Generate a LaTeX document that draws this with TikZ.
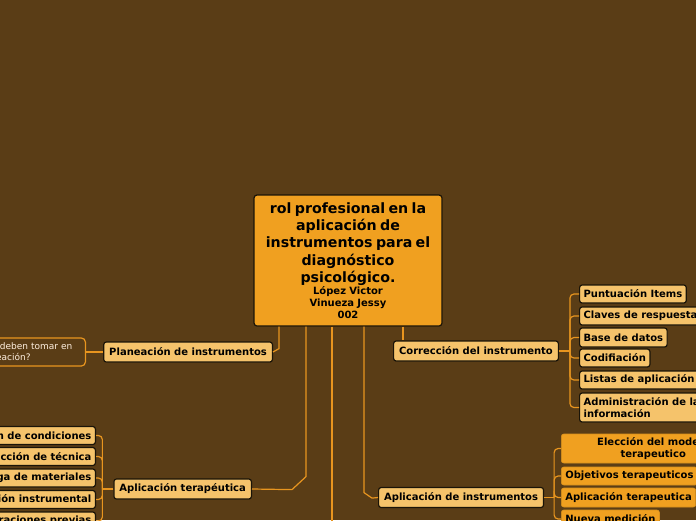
\documentclass[tikz,border=0pt]{standalone}
\usepackage{fontspec}
\setmainfont{DejaVu Sans}
\usepackage{xcolor}
\usepackage{tikz}

\definecolor{bgbrown}{HTML}{5A3D16}
\definecolor{lightfill}{HTML}{F5C36B}
\definecolor{orangefill}{HTML}{F0A020}
\definecolor{linkcol}{HTML}{E8951F}
\definecolor{darkedge}{HTML}{1A1408}

\begin{document}
\begin{tikzpicture}[x=1pt,y=-1pt,
	root/.style={draw=darkedge,line width=1.2pt,fill=orangefill,rounded corners=3pt,minimum width=188pt,minimum height=131pt,text width=186pt,align=center,inner sep=0pt},
	branch/.style={draw=darkedge,line width=1.2pt,fill=lightfill,rounded corners=2.5pt,minimum height=20pt,inner xsep=5.5pt,inner ysep=1pt,font=\fontsize{10}{12}\selectfont\bfseries},
	leaf/.style={branch,minimum height=18pt,inner xsep=4pt},
	orangeleaf/.style={leaf,draw=orangefill!90!black,line width=0.6pt,fill=orangefill},
	question/.style={draw=linkcol,line width=1.2pt,fill=bgbrown,rounded corners=4pt,minimum height=28pt,text width=162pt,align=left,inner xsep=6pt,text=white!88!orange,font=\fontsize{9}{11}\selectfont},
	link/.style={draw=linkcol,line width=1.2pt}]
	\useasboundingbox (0,0) rectangle (696,520);
	\fill[bgbrown] (0,0) rectangle (696,520);
	\clip (0,0) rectangle (696,520);

	% centre
	\node[root] (root) at (348,260.5) {{\fontsize{14.2}{17.2}\selectfont\bfseries rol profesional en la\\aplicación de\\instrumentos para el\\diagnóstico\\psicológico.\par}{\fontsize{10}{12}\selectfont\bfseries López Victor\\Vinueza Jessy\\002\par}};

	% main branches
	\node[branch,anchor=east] (plan) at (273,352) {Planeación de instrumentos};
	\node[branch,anchor=east] (apter) at (252,489) {Aplicación terapéutica};
	\node[branch,anchor=west] (apinst) at (378,497.5) {Aplicación de instrumentos};
	\node[branch,anchor=west] (corr) at (393,351) {Corrección del instrumento};
	\coordinate (down) at (332,530);

	\draw[link] ([xshift=-69pt]root.south) -- ++(0,22) -- (plan.east);
	\draw[link] ([xshift=-42pt]root.south) -- ++(0,150) -- ++(-14,13) -- (apter.east);
	\draw[link] ([xshift=-16pt]root.south) -- (down);
	\draw[link] ([xshift=16pt]root.south) -- ++(0,166) -- ++(8,5.5) -- (apinst.west);
	\draw[link] ([xshift=55pt]root.south) -- ([xshift=55pt]root.south |- corr.north);

	% planeacion
	\node[question,anchor=east] (q) at (86,352) {¿Qué aspectos se deben tomar en\\cuenta en la planeación?};
	\draw[link] (plan.west) -- (q.east);

	% aplicacion terapeutica
	\node[leaf,anchor=east] (t1) at (96,435.5) {Adecuación de condiciones};
	\node[leaf,anchor=east] (t2) at (96,456.5) {Selección de técnica};
	\node[leaf,anchor=east] (t3) at (96,478) {Entrega de materiales};
	\node[leaf,anchor=east] (t4) at (96,499.5) {Aplicación instrumental};
	\node[leaf,anchor=east] (t5) at (96,521) {Consideraciones previas};
	\coordinate (terfork) at ([xshift=-11pt]apter.west);
	\draw[link] (apter.west) -- (terfork);
	\foreach \t in {t1,t2,t3,t4,t5}
		\draw[link,rounded corners=4pt] (terfork) |- (\t.east);

	% correccion
	\node[leaf,anchor=west] (c1) at (579,294) {Puntuación Items};
	\node[leaf,anchor=west] (c2) at (579,316) {Claves de respuesta};
	\node[leaf,anchor=west,minimum height=19pt] (c3) at (579,337.5) {Base de datos};
	\node[leaf,anchor=west] (c4) at (579,358) {Codifiación};
	\node[leaf,anchor=west] (c5) at (579,380) {Listas de aplicación};
	\node[leaf,anchor=west,minimum height=29pt,align=left] (c6) at (579,407.5) {Administración de la\\información};
	\coordinate (corrfork) at ([xshift=11pt]corr.east);
	\draw[link] (corr.east) -- (corrfork);
	\foreach \c in {c1,c2,c3,c4,c5,c6}
		\draw[link,rounded corners=4pt] (corrfork) |- (\c.west);

	% aplicacion de instrumentos
	\node[orangeleaf,anchor=west,minimum width=184pt,minimum height=29pt,align=center] (e1) at (561,448.5) {Elección del modelo\\terapeutico};
	\node[orangeleaf,anchor=west] (e2) at (561,476) {Objetivos terapeuticos};
	\node[orangeleaf,anchor=west,minimum height=19pt] (e3) at (561,497.5) {Aplicación terapeutica};
	\node[orangeleaf,anchor=west] (e4) at (561,519) {Nueva medición};
	\coordinate (instfork) at ([xshift=10pt]apinst.east);
	\draw[link] (apinst.east) -- (instfork);
	\foreach \e in {e1,e2,e3,e4}
		\draw[link,rounded corners=4pt] (instfork) |- (\e.west);
\end{tikzpicture}
\end{document}
